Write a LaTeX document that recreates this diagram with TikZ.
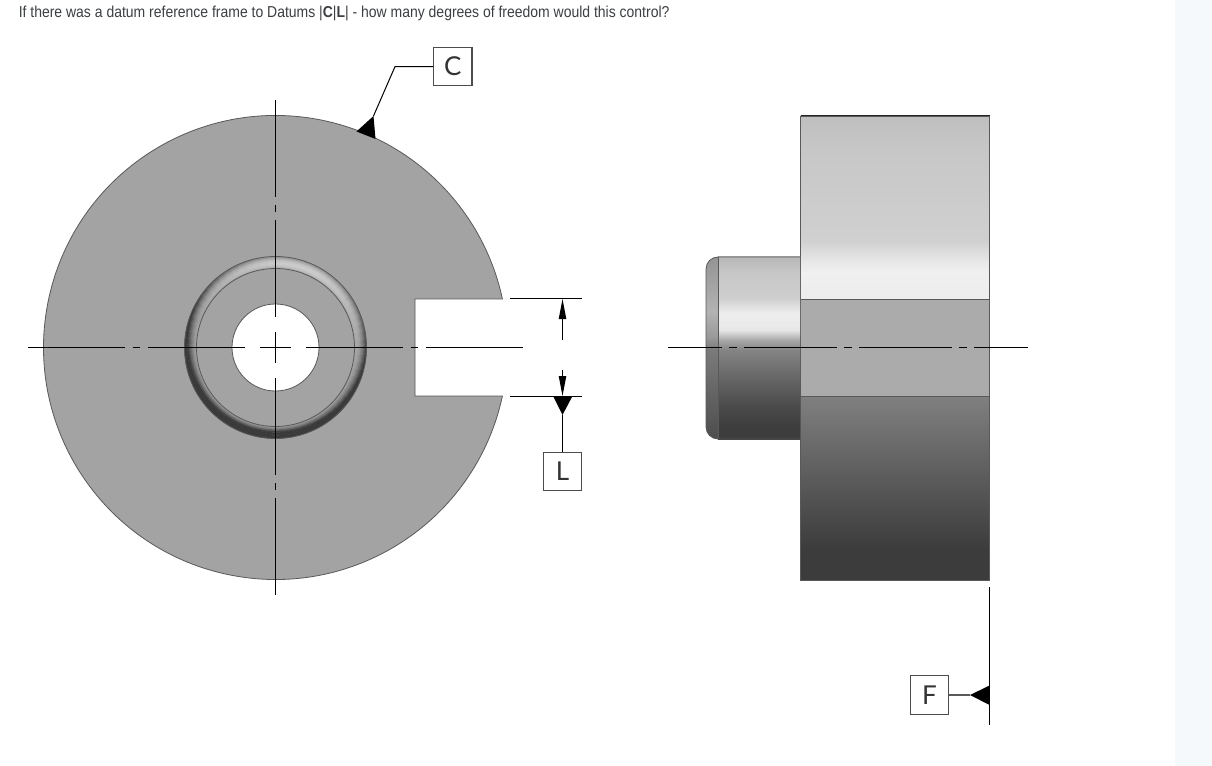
\documentclass[tikz,border=0pt]{standalone}
\usepackage{fontspec}
\setmainfont{Liberation Sans}
\newfontfamily\lblfont{Lato}
\usetikzlibrary{arrows.meta,calc}
\definecolor{discgray}{gray}{0.64}
\definecolor{edgegray}{gray}{0.35}
\definecolor{sidepanel}{HTML}{F6F9FC}
\definecolor{qtext}{HTML}{3C4043}
\pgfdeclareverticalshading{topband}{100bp}{gray(0bp)=(.93);gray(25bp)=(.93);gray(32.4bp)=(.94);gray(35.1bp)=(.91);gray(41.1bp)=(.815);gray(52bp)=(.80);gray(65.7bp)=(.78);gray(75bp)=(.75);gray(100bp)=(.75)}
\pgfdeclareverticalshading{lowband}{100bp}{gray(0bp)=(.235);gray(25bp)=(.235);gray(33.2bp)=(.235);gray(75bp)=(.50);gray(100bp)=(.50)}
\pgfdeclareverticalshading{bossband}{100bp}{gray(0bp)=(.24);gray(25bp)=(.24);gray(28.3bp)=(.24);gray(33.8bp)=(.29);gray(43.1bp)=(.42);gray(49.5bp)=(.52);gray(52.2bp)=(.66);gray(54.9bp)=(.90);gray(56.3bp)=(.92);gray(59.6bp)=(.93);gray(63.7bp)=(.81);gray(70.6bp)=(.78);gray(75bp)=(.72);gray(100bp)=(.72)}
\pgfdeclareverticalshading{chamfband}{100bp}{gray(0bp)=(.30);gray(25bp)=(.30);gray(33bp)=(.36);gray(49.5bp)=(.48);gray(53bp)=(.60);gray(60bp)=(.70);gray(75bp)=(.58);gray(100bp)=(.58)}
\tikzset{
  x=.75pt,y=.75pt,
  cline/.style={draw=black,line width=.75pt},
  partedge/.style={draw=edgegray,line width=.6pt},
  dimline/.style={draw=black,line width=.75pt},
  datumbox/.style={draw=black!70,fill=white,line width=.8pt,minimum size=28.8pt,inner sep=0pt,font=\lblfont\fontsize{19.5}{19.5}\selectfont,text=black!80},
  dimtip/.style={-{Triangle[length=15pt,width=5.5pt]}},
  datumtri/.style={fill=black,draw=none},
}
\begin{document}
\begin{tikzpicture}
\useasboundingbox (0,0) rectangle (1212,-766);
\fill[white] (0,0) rectangle (1212,-766);
\fill[sidepanel] (1175,0) rectangle (1212,-766);
\node[anchor=base west,inner sep=0pt,text=qtext] (question) at (18.5,-18) {\resizebox{488pt}{!}{\scalebox{1}[1.13]{If there was a datum reference frame to Datums |\textbf{C}|\textbf{L}| - how many degrees of freedom would this control?}}};
% left view
\coordinate (ctr) at (275.5,-347.5);
\path[fill=discgray,partedge] (502.4,-299) -- (415,-299) -- (415,-396) -- (502.4,-396)
  arc[start angle=-12.07,end angle=-347.93,radius=232] -- cycle;
\foreach \a in {0,5,...,355}{
  \foreach \r in {79.75,81.25,...,91}{
    \pgfmathsetmacro{\ph}{(\r-79)/12*90}
    \pgfmathsetmacro{\vv}{164+115*(sin(\ph)*(0.3*cos(\a)+0.92*sin(\a))+(cos(\ph)-1)*1.15)}
    \pgfmathsetmacro{\vc}{min(235,max(58,\vv))/255}
    \definecolor{ringc}{gray}{\vc}
    \draw[ringc,line width=1.35pt] ($(ctr)+(\a:\r)$) arc[start angle=\a,end angle=\a+5.6,radius=\r];
  }
}
\draw[partedge] (ctr) circle[radius=91];
\draw[partedge] (ctr) circle[radius=79];
\path[fill=white,partedge] (ctr) circle[radius=43.5];
% centre lines, left view
\draw[cline] (28,-347.5) -- (125,-347.5) (132.5,-347.5) -- (140,-347.5) (148,-347.5) -- (245,-347.5)
  (260,-347.5) -- (291,-347.5) (306,-347.5) -- (403,-347.5) (410.5,-347.5) -- (418,-347.5) (426,-347.5) -- (523,-347.5);
\draw[cline] (275.5,-100.5) -- (275.5,-197) (275.5,-205) -- (275.5,-212) (275.5,-220) -- (275.5,-317)
  (275.5,-332) -- (275.5,-363) (275.5,-378) -- (275.5,-475) (275.5,-483) -- (275.5,-490) (275.5,-498) -- (275.5,-595);
% datum C
\node[datumbox] (boxC) at (452.8,-66.6) {C};
\coordinate (elbowC) at (395,-66.6);
\coordinate (footC) at (373.5,-116);
\draw[dimline] (boxC.west) -- (elbowC) -- (footC);
\fill[datumtri] (footC) -- (375.5,-139) -- (356.5,-131.5) -- cycle;
% datum L and dimension
\coordinate (extTa) at (510,-299); \coordinate (extTb) at (582,-299);
\coordinate (extBa) at (510,-396); \coordinate (extBb) at (582,-396);
\draw[dimline] (extTa) -- (extTb);
\draw[dimline] (extBa) -- (extBb);
\coordinate (tipT) at (562.5,-299); \coordinate (tailT) at (562.5,-339.5);
\coordinate (tipB) at (562.5,-396); \coordinate (tailB) at (562.5,-370);
\draw[dimline,dimtip] (tailT) -- (tipT);
\draw[dimline,dimtip] (tailB) -- (tipB);
\node[datumbox] (boxL) at (562.5,-471.5) {L};
\coordinate (triL) at (562.5,-415);
\draw[dimline] (boxL.north) -- (triL);
\fill[datumtri] (553,-396) -- (572.5,-396) -- (triL) -- cycle;
% right view
\path[shading=topband,partedge] (800.5,-116) rectangle (989.5,-299);
\path[fill=black!33,partedge] (800.5,-299) rectangle (989.5,-396);
\path[shading=lowband,partedge] (800.5,-396) rectangle (989.5,-580);
\draw[draw=black!85,line width=.75pt] (800.5,-116) -- (989.5,-116);
\path[shading=bossband] (718,-257) -- (800,-257) -- (800,-439) -- (718,-439) -- cycle;
\path[shading=chamfband] (706,-269) arc[start angle=180,end angle=90,radius=12] -- (718,-439) arc[start angle=270,end angle=180,radius=12] -- cycle;
\draw[draw=edgegray,line width=.6pt] (800,-257) -- (718,-257) arc[start angle=90,end angle=180,radius=12] -- (706,-427) arc[start angle=180,end angle=270,radius=12] -- (800,-439);
\draw[draw=edgegray,line width=.6pt] (718,-257) -- (718,-439);
\draw[cline] (668,-347.5) -- (722,-347.5) (729,-347.5) -- (737,-347.5) (744,-347.5) -- (837,-347.5)
  (843.5,-347.5) -- (852,-347.5) (859,-347.5) -- (952,-347.5) (958.5,-347.5) -- (967,-347.5) (974,-347.5) -- (1028,-347.5);
% datum F
\coordinate (extFa) at (989.5,-587); \coordinate (extFb) at (989.5,-724.5);
\draw[dimline] (extFa) -- (extFb);
\node[datumbox] (boxF) at (929.5,-695) {F};
\coordinate (triF) at (970,-695);
\draw[draw=black!65,line width=.8pt] (boxF.east) -- (triF);
\fill[datumtri] (989.5,-685.5) -- (989.5,-705) -- (triF) -- cycle;
\end{tikzpicture}
\end{document}
